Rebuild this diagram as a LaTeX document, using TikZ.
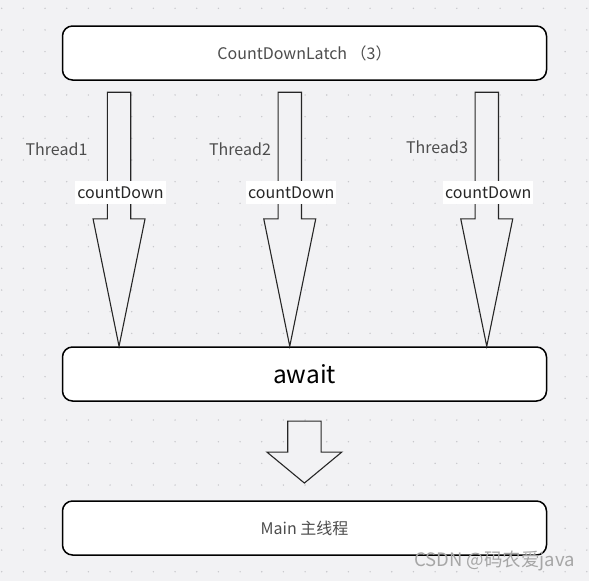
\documentclass[tikz,border=0pt]{standalone}
\usepackage{fontspec}
\setmainfont{Noto Sans CJK SC}
\usetikzlibrary{positioning,calc}

\definecolor{canvas}{HTML}{F2F2F4}
\definecolor{griddot}{HTML}{C8C8CC}
\definecolor{labelgray}{HTML}{4D4D4D}
\definecolor{markgray}{HTML}{A6A6A6}

\tikzset{
  stagebox/.style={draw=black, line width=1.5pt, rounded corners=10pt, fill=white,
    minimum width=484pt, minimum height=54pt, inner sep=0pt, text=labelgray,
    font=\fontsize{16}{18}\selectfont},
  blockarrow/.style={draw=black!85, line width=1.1pt, fill=canvas, line join=miter},
  threadlabel/.style={text=labelgray, inner sep=0pt, font=\fontsize{16}{18}\selectfont},
  calllabel/.style={fill=white, text=black!85, inner sep=2pt, minimum height=23pt,
    font=\fontsize{16}{18}\selectfont},
}

\begin{document}
\begin{tikzpicture}[x=1pt,y=-1pt]
        \fill[canvas] (0,0) rectangle (589,581);
        \useasboundingbox (0,0) rectangle (589,581);
        \foreach \i in {0,...,27}
          \foreach \j in {0,...,26}
            \fill[griddot] (1.7+21.67*\i,8.3+21.67*\j) circle (0.8pt);

        \node[stagebox] (latch) at (304.5,53) {CountDownLatch （3）};
        \node[stagebox, text=black, font=\fontsize{24.5}{27}\selectfont] (await) at (304.5,374) {await};
        \node[stagebox] (main) at (304.5,528) {Main 主线程};

        \foreach \n/\dx in {1/57.3,2/228,3/425}{
          \coordinate (tip\n) at ($(await.north west)+(\dx,0)$);
          \draw[blockarrow] (tip\n)
            -- ++(-26,-127.4) -- ++(14.3,0) -- ++(0,-126.6) coordinate (shaft\n)
            -- ++(23.4,0) -- ++(0,126.6) -- ++(14.3,0) -- cycle;
          \node[calllabel] (call\n) at ($(tip\n)+(1.5,-153.5)$) {countDown};
        }
        \node[threadlabel] (thread1) at (56.5,149) {Thread1};
        \node[threadlabel] (thread2) at (240,149) {Thread2};
        \node[threadlabel] (thread3) at (437,147) {Thread3};

        \draw[blockarrow] ($(await.south)+(-16.8,19.3)$) coordinate (stem)
          -- ++(33.4,0) -- ++(0,31) -- ++(20.7,0) -- ++(-37.4,31) coordinate (down)
          -- ++(-37.5,-31) -- ++(20.8,0) -- cycle;

        \node[text=markgray, font=\fontsize{18.5}{20}\selectfont, anchor=east, inner sep=0pt]
          (mark) at (575,561) {CSDN @码农爱java};
\end{tikzpicture}
\end{document}
